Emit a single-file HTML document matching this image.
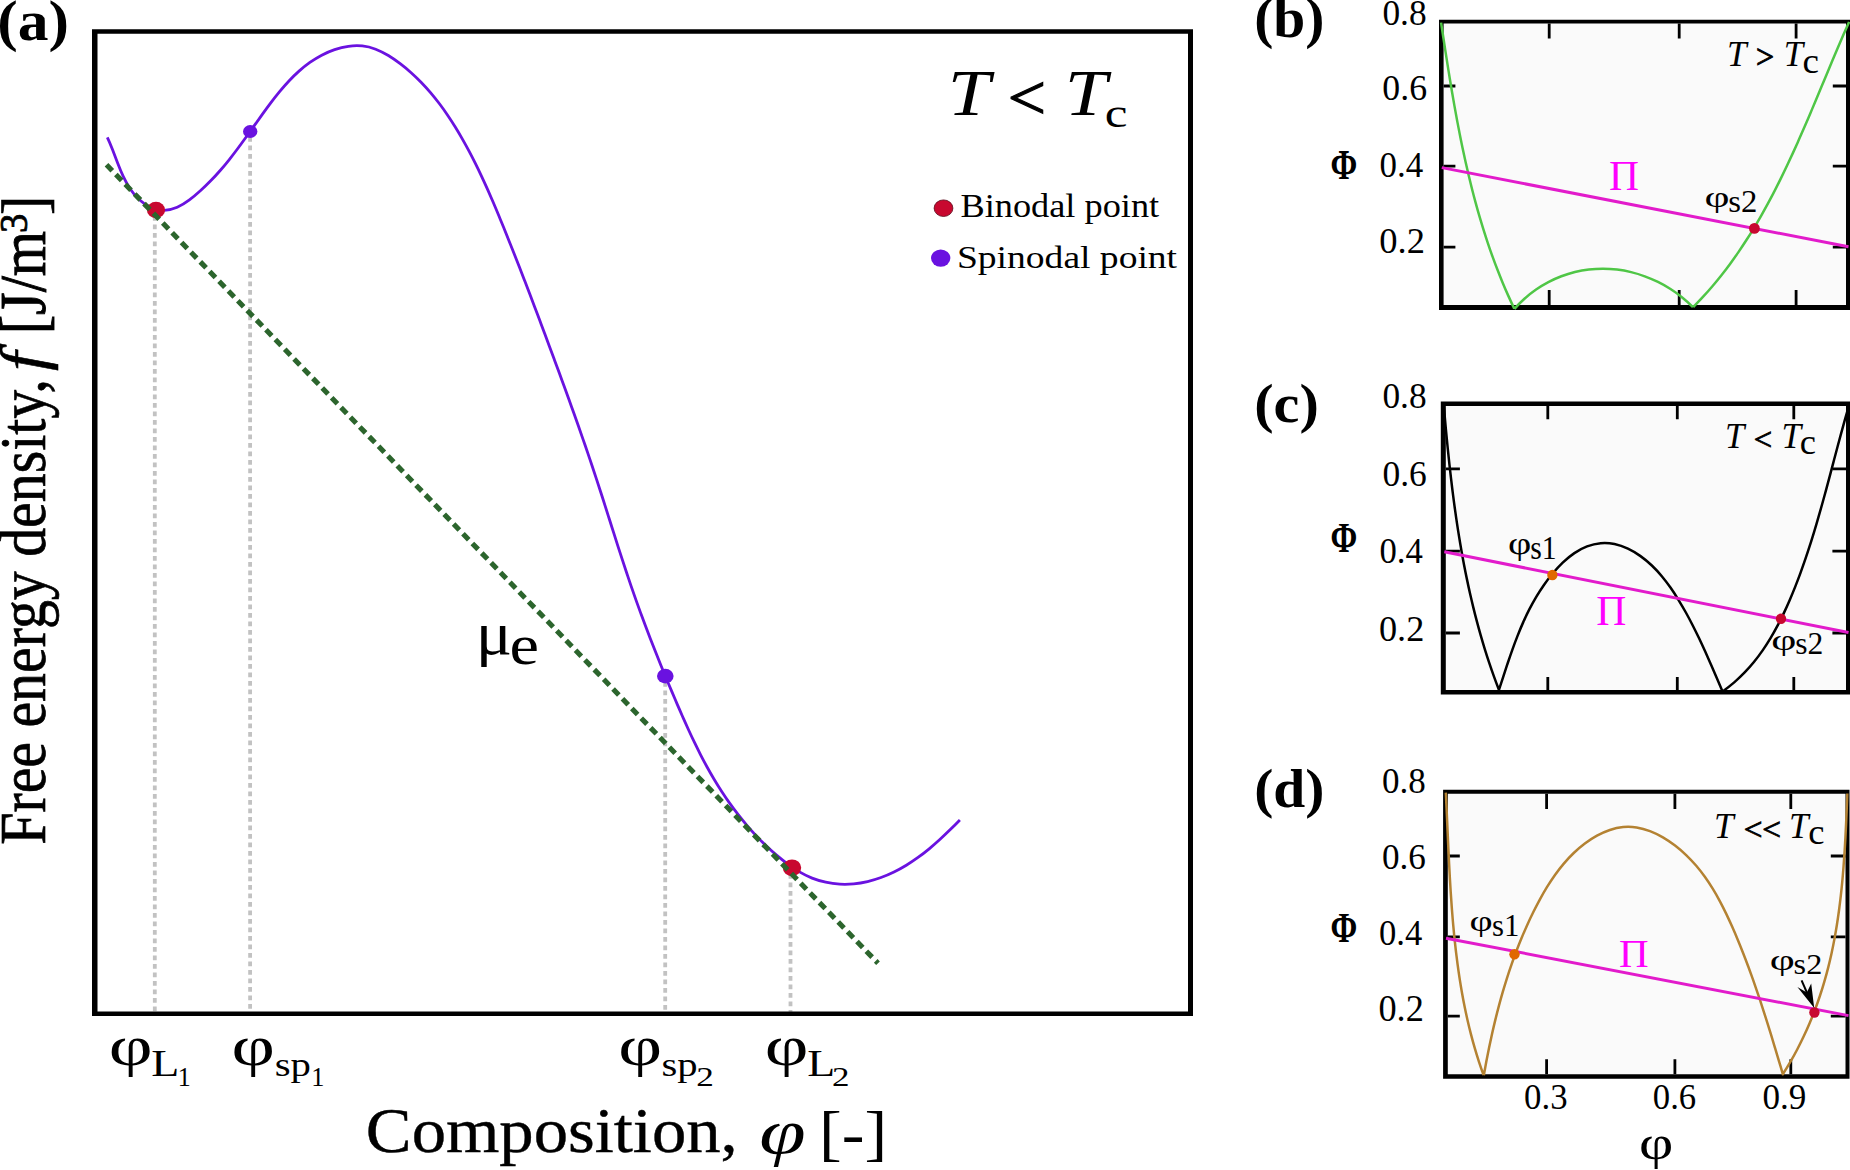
<!DOCTYPE html>
<html><head><meta charset="utf-8"><title>Free energy density and phase diagrams</title>
<style>
html,body{margin:0;padding:0;background:#fff}
body{width:1850px;height:1170px;overflow:hidden}
svg{display:block}
text{font-family:"Liberation Serif","DejaVu Serif",serif;font-size:100px;white-space:pre}
</style></head><body>
<svg width="1850" height="1170" viewBox="0 0 1850 1170">
<rect width="1850" height="1170" fill="#fff"/>
<line x1="154.8" y1="216" x2="154.8" y2="1012" stroke="#c2c2c2" stroke-width="3.8" stroke-dasharray="4.7 3.8"/>
<line x1="250.1" y1="137" x2="250.1" y2="1012" stroke="#c2c2c2" stroke-width="3.8" stroke-dasharray="4.7 3.8"/>
<line x1="665.2" y1="682" x2="665.2" y2="1012" stroke="#c2c2c2" stroke-width="3.8" stroke-dasharray="4.7 3.8"/>
<line x1="790.5" y1="874" x2="790.5" y2="1012" stroke="#c2c2c2" stroke-width="3.8" stroke-dasharray="4.7 3.8"/>
<path d="M107.3 137.32C109.19 141.21 110.9 145.4 112.58 149.73C114.25 154.07 115.89 158.56 117.62 163.05C119.35 167.55 121.18 172.05 123.23 176.41C125.29 180.77 127.57 184.99 130.22 188.93C132.87 192.87 135.89 196.53 139.39 199.74C142.89 202.96 146.82 205.7 151.01 207.57C155.2 209.45 159.67 210.4 164.13 210.32C168.6 210.24 173.01 209.15 177.23 207.3C181.45 205.44 185.51 202.87 189.41 199.96C193.32 197.04 197.05 193.81 200.63 190.57C204.2 187.32 207.62 183.99 210.91 180.6C214.2 177.2 217.35 173.74 220.41 170.22C223.47 166.71 226.43 163.13 229.31 159.51C232.2 155.89 235.01 152.22 237.78 148.51C240.55 144.8 243.28 141.06 245.99 137.29C248.7 133.52 251.4 129.72 254.11 125.9C256.82 122.09 259.54 118.25 262.3 114.41C265.07 110.57 267.88 106.73 270.75 102.92C273.62 99.12 276.56 95.35 279.59 91.68C282.62 88.01 285.73 84.43 288.96 80.99C292.19 77.55 295.54 74.25 299.02 71.14C302.5 68.03 306.11 65.11 309.89 62.43C313.66 59.75 317.6 57.31 321.72 55.15C325.84 52.99 330.16 51.12 334.63 49.6C339.11 48.09 343.71 46.95 348.35 46.3C352.99 45.66 357.66 45.5 362.25 45.96C366.83 46.41 371.33 47.53 375.69 49.2C380.04 50.88 384.27 53.07 388.36 55.56C392.44 58.05 396.39 60.82 400.18 63.69C403.97 66.56 407.62 69.57 411.14 72.69C414.65 75.82 418.04 79.08 421.3 82.44C424.55 85.8 427.69 89.26 430.72 92.82C433.74 96.38 436.66 100.03 439.47 103.77C442.29 107.5 445 111.31 447.63 115.18C450.26 119.05 452.8 122.99 455.26 126.98C457.72 130.96 460.11 135 462.42 139.07C464.74 143.14 467 147.25 469.19 151.39C471.38 155.53 473.52 159.7 475.6 163.9C477.69 168.1 479.72 172.33 481.71 176.58C483.7 180.83 485.65 185.1 487.56 189.39C489.47 193.68 491.34 197.99 493.19 202.31C495.04 206.63 496.85 210.96 498.65 215.3C500.45 219.64 502.23 223.99 504 228.34C505.76 232.69 507.52 237.04 509.26 241.4C511 245.76 512.73 250.12 514.45 254.48C516.17 258.84 517.88 263.21 519.58 267.57C521.28 271.94 522.97 276.31 524.66 280.69C526.34 285.06 528.02 289.43 529.68 293.81C531.35 298.19 533.02 302.57 534.67 306.95C536.33 311.34 537.98 315.72 539.63 320.11C541.27 324.5 542.92 328.89 544.55 333.28C546.19 337.67 547.83 342.06 549.46 346.46C551.1 350.85 552.73 355.25 554.36 359.65C555.98 364.05 557.61 368.45 559.23 372.85C560.84 377.25 562.46 381.66 564.06 386.07C565.67 390.48 567.27 394.89 568.87 399.3C570.46 403.72 572.04 408.13 573.62 412.55C575.2 416.97 576.77 421.39 578.33 425.82C579.89 430.25 581.43 434.68 582.97 439.11C584.51 443.54 586.04 447.98 587.55 452.42C589.07 456.86 590.57 461.3 592.06 465.75C593.55 470.19 595.03 474.64 596.49 479.1C597.95 483.55 599.4 488.01 600.84 492.48C602.28 496.94 603.71 501.4 605.13 505.87C606.55 510.33 607.97 514.8 609.38 519.27C610.8 523.74 612.22 528.2 613.64 532.67C615.05 537.14 616.48 541.6 617.91 546.06C619.34 550.52 620.78 554.98 622.23 559.44C623.68 563.9 625.15 568.35 626.63 572.79C628.11 577.24 629.61 581.68 631.13 586.12C632.65 590.55 634.19 594.98 635.76 599.4C637.33 603.82 638.92 608.23 640.53 612.64C642.14 617.05 643.78 621.45 645.43 625.84C647.09 630.23 648.77 634.61 650.46 638.99C652.16 643.36 653.87 647.73 655.61 652.1C657.34 656.46 659.09 660.81 660.86 665.16C662.63 669.51 664.41 673.85 666.21 678.18C668 682.51 669.82 686.84 671.64 691.15C673.47 695.47 675.31 699.78 677.16 704.09C679.01 708.39 680.88 712.69 682.76 716.97C684.65 721.25 686.56 725.52 688.51 729.78C690.46 734.03 692.44 738.27 694.48 742.48C696.51 746.7 698.59 750.89 700.73 755.06C702.87 759.23 705.07 763.37 707.34 767.48C709.61 771.58 711.96 775.66 714.38 779.7C716.79 783.74 719.29 787.73 721.86 791.68C724.43 795.63 727.07 799.53 729.8 803.37C732.52 807.21 735.33 810.99 738.21 814.7C741.1 818.41 744.06 822.06 747.11 825.63C750.16 829.19 753.29 832.68 756.51 836.09C759.73 839.49 763.03 842.81 766.42 846.03C769.81 849.25 773.29 852.37 776.86 855.39C780.42 858.41 784.08 861.33 787.83 864.12C791.59 866.9 795.45 869.54 799.48 871.9C803.51 874.27 807.71 876.35 812.09 878.08C816.48 879.8 821.03 881.18 825.67 882.19C830.3 883.2 835.01 883.85 839.71 884.13C844.41 884.4 849.1 884.3 853.75 883.86C858.4 883.43 863.02 882.65 867.57 881.59C872.13 880.52 876.62 879.16 881.03 877.55C885.44 875.95 889.77 874.09 893.99 872.03C898.21 869.96 902.32 867.69 906.33 865.25C910.33 862.82 914.23 860.21 918.03 857.46C921.84 854.71 925.55 851.82 929.18 848.83C932.8 845.84 936.35 842.74 939.82 839.57C943.3 836.4 946.7 833.15 950.04 829.87C953.38 826.58 956.66 823.25 959.89 819.92" fill="none" stroke="#6a12e0" stroke-width="2.8" stroke-linecap="butt"/>
<ellipse cx="156" cy="210" rx="9.1" ry="8.3" fill="#c8082f"/>
<ellipse cx="792" cy="867.8" rx="9.2" ry="8.4" fill="#c8082f"/>
<ellipse cx="250.2" cy="131.5" rx="7.2" ry="6.5" fill="#6a12e0"/>
<ellipse cx="665.3" cy="676.1" rx="8.3" ry="7.3" fill="#6a12e0"/>
<ellipse cx="943.5" cy="208.2" rx="9.4" ry="8.3" fill="#c8082f" stroke="#5a0a1a" stroke-width="0.8"/>
<ellipse cx="940.7" cy="258.1" rx="9.7" ry="8.7" fill="#6a12e0"/>
<line x1="106.5" y1="164.8" x2="878" y2="963.2" stroke="#2c652d" stroke-width="5.1" stroke-dasharray="8.3 5.2"/>
<path fill="#000" fill-rule="evenodd" d="M92 29.2H1193V1016H92ZM97.5 33.8H1188V1011.6H97.5Z"/>
<rect x="1443.6" y="23.5" width="402.4" height="281.5" fill="#fafafa"/>
<path d="M1443.6 86h11.8M1846 86h-13.2M1443.6 166.2h11.8M1846 166.2h-13.2M1443.6 247.1h11.8M1846 247.1h-13.2M1549.2 23.5v15M1549.2 305v-15M1679.2 23.5v15M1679.2 305v-15M1796.1 23.5v15M1796.1 305v-15" stroke="#000" stroke-width="2.8" fill="none"/>
<path fill="#000" fill-rule="evenodd" d="M1439 19.8H1850.5V310.1H1439ZM1443.6 23.5H1846V305H1443.6Z"/>
<clipPath id="cb"><rect x="1439" y="19.8" width="411" height="290.3"/></clipPath>
<g clip-path="url(#cb)"><path d="M1441.06 22.62C1441.76 27.25 1442.47 31.88 1443.18 36.51C1443.88 41.14 1444.59 45.78 1445.31 50.42C1446.03 55.06 1446.76 59.7 1447.5 64.34C1448.24 68.98 1448.98 73.63 1449.74 78.27C1450.5 82.91 1451.28 87.55 1452.07 92.19C1452.86 96.83 1453.66 101.47 1454.49 106.11C1455.31 110.74 1456.16 115.37 1457.02 120C1457.89 124.63 1458.78 129.26 1459.69 133.87C1460.6 138.49 1461.54 143.11 1462.5 147.71C1463.47 152.32 1464.46 156.92 1465.48 161.51C1466.51 166.11 1467.56 170.69 1468.65 175.26C1469.74 179.84 1470.86 184.41 1472.01 188.96C1473.17 193.52 1474.36 198.06 1475.6 202.59C1476.83 207.13 1478.1 211.65 1479.41 216.16C1480.73 220.67 1482.09 225.16 1483.49 229.64C1484.89 234.12 1486.33 238.59 1487.83 243.04C1489.32 247.49 1490.86 251.93 1492.46 256.35C1494.05 260.77 1495.69 265.17 1497.39 269.55C1499.09 273.94 1500.84 278.3 1502.65 282.65C1504.46 287 1506.32 291.32 1508.24 295.63C1510.17 299.94 1512.15 304.22 1514.2 308.49 M1514.44 308.94C1517.67 305.22 1521.11 301.73 1524.73 298.5C1528.35 295.26 1532.15 292.27 1536.1 289.54C1540.05 286.81 1544.15 284.33 1548.37 282.12C1552.59 279.9 1556.93 277.95 1561.37 276.27C1565.8 274.59 1570.32 273.18 1574.91 272.05C1579.5 270.91 1584.15 270.06 1588.83 269.5C1593.51 268.93 1598.23 268.65 1602.95 268.66C1607.67 268.67 1612.39 268.98 1617.09 269.57C1621.79 270.15 1626.47 271.01 1631.09 272.14C1635.71 273.27 1640.28 274.66 1644.77 276.3C1649.26 277.94 1653.66 279.83 1657.96 281.96C1662.26 284.08 1666.45 286.44 1670.5 289.02C1674.55 291.6 1678.46 294.4 1682.21 297.4C1685.95 300.4 1689.53 303.61 1692.92 307.01 M1693.21 307.09C1696.6 303.68 1699.92 300.21 1703.15 296.69C1706.38 293.17 1709.54 289.59 1712.62 285.97C1715.7 282.35 1718.7 278.67 1721.64 274.95C1724.57 271.23 1727.44 267.46 1730.24 263.65C1733.04 259.84 1735.77 255.99 1738.44 252.09C1741.11 248.2 1743.72 244.27 1746.28 240.3C1748.83 236.33 1751.33 232.32 1753.78 228.28C1756.22 224.24 1758.61 220.16 1760.96 216.06C1763.3 211.95 1765.6 207.82 1767.85 203.66C1770.1 199.49 1772.31 195.3 1774.49 191.09C1776.66 186.88 1778.79 182.64 1780.88 178.39C1782.98 174.13 1785.04 169.85 1787.07 165.56C1789.11 161.26 1791.11 156.95 1793.08 152.63C1795.06 148.3 1797.01 143.96 1798.94 139.61C1800.87 135.26 1802.78 130.9 1804.67 126.53C1806.56 122.16 1808.43 117.79 1810.29 113.41C1812.15 109.03 1814 104.64 1815.84 100.26C1817.68 95.87 1819.52 91.48 1821.35 87.1C1823.18 82.72 1825 78.34 1826.83 73.96C1828.65 69.59 1830.48 65.22 1832.31 60.85C1834.15 56.49 1835.98 52.14 1837.83 47.8C1839.68 43.46 1841.54 39.13 1843.41 34.82C1845.28 30.51 1847.17 26.21 1849.07 21.93" fill="none" stroke="#4fc646" stroke-width="2.5" stroke-linejoin="miter"/>
<line x1="1441.8" y1="167.6" x2="1848.5" y2="246.8" stroke="#e21bcb" stroke-width="3"/>
<circle cx="1754.4" cy="228.4" r="5.4" fill="#c8082f"/></g>
<rect x="1445.8" y="406" width="400.2" height="284.1" fill="#fafafa"/>
<path d="M1445.8 468.8h14.1M1846 468.8h-13.6M1445.8 551.2h14.1M1846 551.2h-13.6M1445.8 633h14.1M1846 633h-13.6M1547.8 406v13.2M1547.8 690.1v-13.2M1677.3 406v13.2M1677.3 690.1v-13.2M1793.8 406v13.2M1793.8 690.1v-13.2" stroke="#000" stroke-width="2.8" fill="none"/>
<path fill="#000" fill-rule="evenodd" d="M1440.8 401.4H1850.5V694.6H1440.8ZM1445.8 406H1846V690.1H1445.8Z"/>
<clipPath id="cc"><rect x="1440.8" y="401.4" width="410" height="293.2"/></clipPath>
<g clip-path="url(#cc)"><path d="M1443.87 406.77C1444.28 411.58 1444.71 416.39 1445.15 421.21C1445.58 426.02 1446.03 430.84 1446.49 435.65C1446.95 440.47 1447.43 445.28 1447.92 450.09C1448.41 454.9 1448.92 459.72 1449.44 464.52C1449.97 469.33 1450.51 474.14 1451.08 478.94C1451.64 483.75 1452.23 488.55 1452.84 493.35C1453.45 498.14 1454.08 502.94 1454.74 507.73C1455.4 512.51 1456.09 517.3 1456.8 522.08C1457.52 526.86 1458.26 531.63 1459.03 536.4C1459.81 541.17 1460.61 545.93 1461.45 550.69C1462.29 555.44 1463.16 560.19 1464.07 564.93C1464.98 569.67 1465.92 574.41 1466.91 579.13C1467.89 583.86 1468.91 588.57 1469.97 593.28C1471.04 597.99 1472.14 602.69 1473.29 607.38C1474.44 612.06 1475.63 616.74 1476.87 621.41C1478.1 626.08 1479.39 630.74 1480.72 635.38C1482.05 640.03 1483.43 644.66 1484.86 649.29C1486.3 653.91 1487.78 658.52 1489.32 663.11C1490.85 667.71 1492.44 672.3 1494.09 676.87C1495.73 681.44 1497.44 685.99 1499.2 690.54 M1498.69 690.61C1500.21 686 1501.72 681.39 1503.22 676.79C1504.73 672.19 1506.23 667.6 1507.77 663.02C1509.31 658.44 1510.87 653.89 1512.49 649.36C1514.11 644.83 1515.78 640.33 1517.54 635.87C1519.29 631.41 1521.12 626.99 1523.05 622.62C1524.98 618.25 1527.02 613.92 1529.19 609.67C1531.36 605.41 1533.65 601.21 1536.1 597.08C1538.55 592.95 1541.16 588.9 1543.94 584.93C1546.73 580.95 1549.69 577.06 1552.86 573.27C1556.03 569.47 1559.4 565.79 1562.98 562.37C1566.56 558.96 1570.36 555.81 1574.38 553.1C1578.39 550.4 1582.65 548.12 1587.07 546.43C1591.5 544.73 1596.07 543.62 1600.68 543.2C1605.29 542.78 1609.91 543.1 1614.48 544.06C1619.04 545.02 1623.54 546.61 1627.91 548.67C1632.27 550.72 1636.5 553.25 1640.52 556.11C1644.53 558.96 1648.31 562.12 1651.85 565.49C1655.39 568.86 1658.69 572.45 1661.81 576.19C1664.93 579.94 1667.86 583.83 1670.64 587.83C1673.42 591.82 1676.05 595.91 1678.58 600.03C1681.11 604.15 1683.54 608.32 1685.87 612.51C1688.2 616.71 1690.45 620.94 1692.63 625.2C1694.8 629.46 1696.91 633.75 1698.96 638.07C1701.02 642.39 1703.02 646.74 1704.99 651.11C1706.96 655.48 1708.9 659.88 1710.82 664.29C1712.75 668.71 1714.65 673.14 1716.57 677.59C1718.48 682.04 1720.4 686.51 1722.33 690.99 M1722.66 691.44C1726.71 688.59 1730.56 685.57 1734.22 682.41C1737.88 679.24 1741.36 675.93 1744.67 672.49C1747.98 669.05 1751.12 665.47 1754.11 661.79C1757.1 658.1 1759.94 654.3 1762.65 650.4C1765.36 646.5 1767.93 642.5 1770.38 638.42C1772.84 634.34 1775.18 630.18 1777.41 625.95C1779.65 621.73 1781.78 617.44 1783.83 613.1C1785.88 608.76 1787.85 604.37 1789.75 599.95C1791.65 595.53 1793.48 591.08 1795.26 586.6C1797.03 582.12 1798.75 577.62 1800.41 573.1C1802.07 568.57 1803.68 564.02 1805.24 559.46C1806.81 554.89 1808.32 550.31 1809.8 545.71C1811.28 541.11 1812.71 536.5 1814.12 531.87C1815.52 527.25 1816.89 522.61 1818.23 517.97C1819.58 513.32 1820.89 508.67 1822.19 504.02C1823.48 499.36 1824.76 494.71 1826.02 490.05C1827.28 485.39 1828.52 480.73 1829.76 476.08C1831 471.42 1832.23 466.77 1833.46 462.13C1834.68 457.49 1835.91 452.85 1837.14 448.23C1838.37 443.61 1839.61 438.99 1840.86 434.4C1842.1 429.8 1843.36 425.22 1844.64 420.65C1845.91 416.09 1847.21 411.54 1848.52 407.02" fill="none" stroke="#000" stroke-width="2.5" stroke-linejoin="miter"/>
<line x1="1444.3" y1="551.8" x2="1848.5" y2="632.5" stroke="#e21bcb" stroke-width="3"/>
<circle cx="1552.4" cy="575" r="5.2" fill="#e06800"/>
<circle cx="1781" cy="618.8" r="5.2" fill="#c8082f"/></g>
<rect x="1447.8" y="793.8" width="397.7" height="280.5" fill="#fafafa"/>
<path d="M1447.8 856h12M1845.5 856h-14.7M1447.8 936.8h12M1845.5 936.8h-14.7M1447.8 1016.2h12M1845.5 1016.2h-14.7M1546.6 793.8v15.1M1546.6 1074.3v-15.1M1674.9 793.8v15.1M1674.9 1074.3v-15.1M1790.8 793.8v15.1M1790.8 1074.3v-15.1" stroke="#000" stroke-width="2.8" fill="none"/>
<path fill="#000" fill-rule="evenodd" d="M1443.1 789.8H1849.5V1078.7H1443.1ZM1447.8 793.8H1845.5V1074.3H1447.8Z"/>
<clipPath id="cd"><rect x="1443.1" y="789.8" width="406.4" height="288.9"/></clipPath>
<g clip-path="url(#cd)"><path d="M1445.8 792.62C1446.04 797.35 1446.27 802.09 1446.49 806.84C1446.71 811.58 1446.92 816.33 1447.14 821.09C1447.35 825.85 1447.56 830.61 1447.77 835.37C1447.98 840.14 1448.2 844.91 1448.42 849.68C1448.64 854.45 1448.87 859.22 1449.12 863.99C1449.36 868.77 1449.61 873.54 1449.88 878.31C1450.15 883.09 1450.44 887.86 1450.75 892.63C1451.05 897.41 1451.38 902.18 1451.74 906.94C1452.09 911.71 1452.47 916.48 1452.88 921.24C1453.29 926 1453.73 930.76 1454.21 935.51C1454.68 940.26 1455.2 945.01 1455.75 949.74C1456.3 954.48 1456.89 959.22 1457.52 963.94C1458.15 968.67 1458.83 973.38 1459.56 978.09C1460.29 982.8 1461.06 987.5 1461.89 992.19C1462.72 996.88 1463.6 1001.56 1464.54 1006.22C1465.48 1010.89 1466.48 1015.54 1467.54 1020.19C1468.6 1024.83 1469.73 1029.46 1470.92 1034.07C1472.11 1038.69 1473.37 1043.29 1474.7 1047.87C1476.03 1052.46 1477.43 1057.03 1478.91 1061.58C1480.39 1066.13 1481.95 1070.67 1483.58 1075.19 M1483.82 1075.19C1484.66 1070.48 1485.52 1065.78 1486.42 1061.09C1487.32 1056.4 1488.26 1051.71 1489.22 1047.04C1490.19 1042.37 1491.2 1037.71 1492.24 1033.06C1493.29 1028.41 1494.37 1023.78 1495.5 1019.16C1496.63 1014.54 1497.81 1009.93 1499.03 1005.34C1500.25 1000.76 1501.53 996.18 1502.85 991.63C1504.18 987.08 1505.56 982.54 1506.99 978.03C1508.43 973.51 1509.92 969.02 1511.48 964.55C1513.03 960.07 1514.65 955.63 1516.33 951.2C1518.01 946.77 1519.76 942.37 1521.58 937.99C1523.39 933.62 1525.28 929.27 1527.24 924.95C1529.2 920.62 1531.24 916.33 1533.35 912.06C1535.47 907.8 1537.65 903.56 1539.93 899.36C1542.21 895.16 1544.59 891 1547.08 886.92C1549.58 882.84 1552.2 878.83 1554.98 874.93C1557.75 871.03 1560.69 867.23 1563.8 863.57C1566.91 859.91 1570.21 856.38 1573.73 853.01C1577.24 849.65 1580.96 846.45 1584.86 843.52C1588.75 840.6 1592.81 837.93 1596.98 835.64C1601.16 833.34 1605.46 831.41 1609.84 829.94C1614.21 828.48 1618.66 827.48 1623.14 827.04C1627.62 826.61 1632.13 826.76 1636.62 827.47C1641.11 828.18 1645.58 829.43 1649.97 831.1C1654.37 832.78 1658.69 834.88 1662.89 837.32C1667.09 839.76 1671.16 842.52 1675.05 845.51C1678.95 848.5 1682.66 851.71 1686.15 855.06C1689.64 858.41 1692.93 861.91 1696.04 865.54C1699.14 869.17 1702.07 872.93 1704.84 876.79C1707.61 880.66 1710.23 884.63 1712.71 888.68C1715.2 892.74 1717.55 896.88 1719.8 901.08C1722.05 905.28 1724.19 909.54 1726.26 913.85C1728.32 918.15 1730.3 922.5 1732.22 926.86C1734.15 931.22 1736.02 935.6 1737.84 939.99C1739.67 944.38 1741.44 948.79 1743.17 953.2C1744.91 957.62 1746.6 962.05 1748.25 966.49C1749.9 970.94 1751.52 975.39 1753.1 979.86C1754.68 984.32 1756.22 988.8 1757.74 993.29C1759.26 997.78 1760.76 1002.28 1762.22 1006.79C1763.69 1011.3 1765.14 1015.82 1766.57 1020.35C1767.99 1024.87 1769.4 1029.41 1770.8 1033.96C1772.19 1038.5 1773.57 1043.06 1774.95 1047.62C1776.32 1052.18 1777.68 1056.75 1779.04 1061.33C1780.41 1065.91 1781.76 1070.49 1783.12 1075.08 M1782.45 1074.79C1785.14 1070.61 1787.72 1066.39 1790.2 1062.13C1792.68 1057.86 1795.06 1053.56 1797.33 1049.22C1799.61 1044.88 1801.78 1040.5 1803.86 1036.09C1805.94 1031.68 1807.92 1027.23 1809.81 1022.75C1811.69 1018.27 1813.49 1013.75 1815.19 1009.21C1816.89 1004.67 1818.51 1000.09 1820.03 995.49C1821.56 990.89 1823 986.26 1824.35 981.61C1825.71 976.95 1826.98 972.27 1828.18 967.57C1829.37 962.87 1830.48 958.14 1831.52 953.4C1832.55 948.65 1833.52 943.89 1834.41 939.11C1835.31 934.32 1836.14 929.52 1836.9 924.71C1837.67 919.9 1838.37 915.07 1839.02 910.23C1839.67 905.39 1840.27 900.54 1840.81 895.69C1841.36 890.83 1841.86 885.96 1842.31 881.09C1842.77 876.22 1843.18 871.34 1843.56 866.47C1843.93 861.59 1844.27 856.71 1844.58 851.83C1844.9 846.95 1845.18 842.07 1845.44 837.19C1845.7 832.32 1845.93 827.45 1846.15 822.58C1846.37 817.72 1846.58 812.86 1846.77 808.01C1846.96 803.16 1847.14 798.32 1847.32 793.49" fill="none" stroke="#b48232" stroke-width="2.5" stroke-linejoin="miter"/>
<line x1="1446" y1="938.2" x2="1848.5" y2="1015.6" stroke="#e21bcb" stroke-width="3"/>
<circle cx="1514.5" cy="954.2" r="5.2" fill="#e06800"/>
<circle cx="1814.4" cy="1012.5" r="5.2" fill="#c8082f"/></g>
<path d="M1801.6 980.4L1807.5 994" stroke="#000" stroke-width="2" fill="none"/>
<path d="M1814.2 1008L1797.4 987.1L1806.8 992.6L1811.2 983.5Z" fill="#000"/>
<g>
<text transform="matrix(0.6158 0 0 0.5622 -2.77 40.39)" font-weight="bold">(a)</text>
<text transform="matrix(0 -0.5784 0.6478 0 44.7 844.74)" stroke="#000" stroke-width="1.04">Free energy density,</text>
<text transform="matrix(0 -0.6925 0.6295 0 44.38 370.95)" font-style="italic" stroke="#000" stroke-width="0.95">f</text>
<text transform="matrix(0 -0.5822 0.6558 0 45.25 334.37)" stroke="#000" stroke-width="1.37">[J/m</text>
<text transform="matrix(0 -0.3902 0.4030 0 26.6 233.05)" stroke="#000" stroke-width="2.05">3</text>
<text transform="matrix(0 -0.5778 0.6424 0 45.33 215.02)" stroke="#000" stroke-width="1.04">]</text>
<text transform="matrix(0.7618 0 0 0.6631 947.85 114.9)" font-style="italic">T</text>
<text transform="matrix(0.6774 0 0 0.6438 1007.81 119.29)" stroke="#000" stroke-width="1.86">&lt;</text>
<text transform="matrix(0.7600 0 0 0.6631 1064.86 114.9)" font-style="italic">T</text>
<text transform="matrix(0.5120 0 0 0.4312 1104.75 127.17)">c</text>
<text transform="matrix(0.3630 0 0 0.3278 960.51 216.92)">Binodal point</text>
<text transform="matrix(0.3756 0 0 0.3178 956.96 267.93)">Spinodal point</text>
<text transform="matrix(0.6771 0 0 0.6134 475.68 654.12)">μ</text>
<text transform="matrix(0.6649 0 0 0.5750 509.54 664.02)">e</text>
<text transform="matrix(0.7600 0 0 0.5781 108.86 1065.46)">φ</text>
<text transform="matrix(0.4596 0 0 0.3723 151.32 1075.8)">L</text>
<text transform="matrix(0.2600 0 0 0.2718 177.76 1086.3)">1</text>
<text transform="matrix(0.7520 0 0 0.5781 231.59 1065.46)">φ</text>
<text transform="matrix(0.4074 0 0 0.3382 274.77 1076.4)">sp</text>
<text transform="matrix(0.2629 0 0 0.2718 311.23 1086.3)">1</text>
<text transform="matrix(0.7600 0 0 0.5781 618.16 1065.46)">φ</text>
<text transform="matrix(0.4062 0 0 0.3382 661.48 1076.4)">sp</text>
<text transform="matrix(0.3525 0 0 0.2803 696.21 1086.3)">2</text>
<text transform="matrix(0.7580 0 0 0.5781 764.67 1065.46)">φ</text>
<text transform="matrix(0.4577 0 0 0.3723 807.13 1075.8)">L</text>
<text transform="matrix(0.3500 0 0 0.2803 831.92 1086.3)">2</text>
<text transform="matrix(0.6865 0 0 0.6391 365.85 1151.98)" stroke="#000" stroke-width="0.63">Composition,</text>
<text transform="matrix(0.8404 0 0 0.6336 759.18 1153.39)" font-style="italic">φ</text>
<text transform="matrix(0.6824 0 0 0.6194 818.98 1153.54)">[-]</text>
<text transform="matrix(0.5753 0 0 0.5622 1254.21 36.79)" font-weight="bold">(b)</text>
<text transform="matrix(0.3538 0 0 0.3574 1382.38 24.56)">0.8</text>
<text transform="matrix(0.3576 0 0 0.3574 1382.37 99.96)">0.6</text>
<text transform="matrix(0.3498 0 0 0.3529 1379.4 176.77)">0.4</text>
<text transform="matrix(0.3654 0 0 0.3676 1379.34 253.35)">0.2</text>
<text transform="matrix(0.3227 0 0 0.4215 1330.61 178.51)" font-weight="bold">Φ</text>
<text transform="matrix(0.3509 0 0 0.3615 1727.02 66.2)" font-style="italic">T</text>
<text transform="matrix(0.3204 0 0 0.3292 1755.9 68.26)" stroke="#000" stroke-width="2.81">&gt;</text>
<text transform="matrix(0.3473 0 0 0.3615 1783.74 66.2)" font-style="italic">T</text>
<text transform="matrix(0.3707 0 0 0.3500 1802.42 72.55)">c</text>
<text transform="matrix(0.4150 0 0 0.4168 1608.95 189.9)" fill="#ff00ff">Π</text>
<text transform="matrix(0.4340 0 0 0.2861 1704.46 207.19)">φ</text>
<text transform="matrix(0.3270 0 0 0.3164 1728.29 211.98)">s2</text>
<text transform="matrix(0.5824 0 0 0.5511 1254.18 421.73)" font-weight="bold">(c)</text>
<text transform="matrix(0.3538 0 0 0.3529 1382.38 408.47)">0.8</text>
<text transform="matrix(0.3551 0 0 0.3647 1382.38 485.55)">0.6</text>
<text transform="matrix(0.3473 0 0 0.3574 1379.41 562.96)">0.4</text>
<text transform="matrix(0.3628 0 0 0.3662 1378.95 640.55)">0.2</text>
<text transform="matrix(0.3227 0 0 0.4262 1330.61 552.11)" font-weight="bold">Φ</text>
<text transform="matrix(0.3473 0 0 0.3615 1725.04 447.9)" font-style="italic">T</text>
<text transform="matrix(0.3247 0 0 0.3125 1753.68 449.81)" stroke="#000" stroke-width="2.88">&lt;</text>
<text transform="matrix(0.3509 0 0 0.3615 1781.52 447.9)" font-style="italic">T</text>
<text transform="matrix(0.3653 0 0 0.3500 1799.64 454.25)">c</text>
<text transform="matrix(0.4165 0 0 0.4214 1596.35 624.7)" fill="#ff00ff">Π</text>
<text transform="matrix(0.4040 0 0 0.3124 1507.98 553.64)">φ</text>
<text transform="matrix(0.2975 0 0 0.3323 1530.21 558.57)">s1</text>
<text transform="matrix(0.4360 0 0 0.2934 1771.36 650.34)">φ</text>
<text transform="matrix(0.3157 0 0 0.3119 1795.34 654.49)">s2</text>
<text transform="matrix(0.5753 0 0 0.5533 1254.21 806.68)" font-weight="bold">(d)</text>
<text transform="matrix(0.3504 0 0 0.3574 1381.9 792.96)">0.8</text>
<text transform="matrix(0.3517 0 0 0.3618 1381.89 869.16)">0.6</text>
<text transform="matrix(0.3464 0 0 0.3574 1379.01 945.36)">0.4</text>
<text transform="matrix(0.3636 0 0 0.3691 1378.45 1021.45)">0.2</text>
<text transform="matrix(0.3227 0 0 0.4277 1330.61 941.51)" font-weight="bold">Φ</text>
<text transform="matrix(0.3527 0 0 0.3615 1714.01 837.9)" font-style="italic">T</text>
<text transform="matrix(0.3301 0 0 0.3063 1743.65 839.76)" stroke="#000" stroke-width="2.94">&lt;&lt;</text>
<text transform="matrix(0.3509 0 0 0.3615 1789.02 837.9)" font-style="italic">T</text>
<text transform="matrix(0.3653 0 0 0.3500 1808.34 844.25)">c</text>
<text transform="matrix(0.4105 0 0 0.4092 1618.97 967)" fill="#ff00ff">Π</text>
<text transform="matrix(0.4020 0 0 0.2978 1469.49 930.95)">φ</text>
<text transform="matrix(0.3076 0 0 0.3143 1491.97 935.69)">s1</text>
<text transform="matrix(0.4340 0 0 0.2934 1769.76 970.04)">φ</text>
<text transform="matrix(0.3220 0 0 0.3000 1793.61 974.2)">s2</text>
<text transform="matrix(0.3479 0 0 0.3559 1524.11 1108.77)">0.3</text>
<text transform="matrix(0.3475 0 0 0.3603 1652.81 1108.76)">0.6</text>
<text transform="matrix(0.3513 0 0 0.3662 1762.49 1109.15)">0.9</text>
<text transform="matrix(0.5940 0 0 0.4832 1639.12 1159.15)">φ</text>
</g>
</svg>
</body></html>
